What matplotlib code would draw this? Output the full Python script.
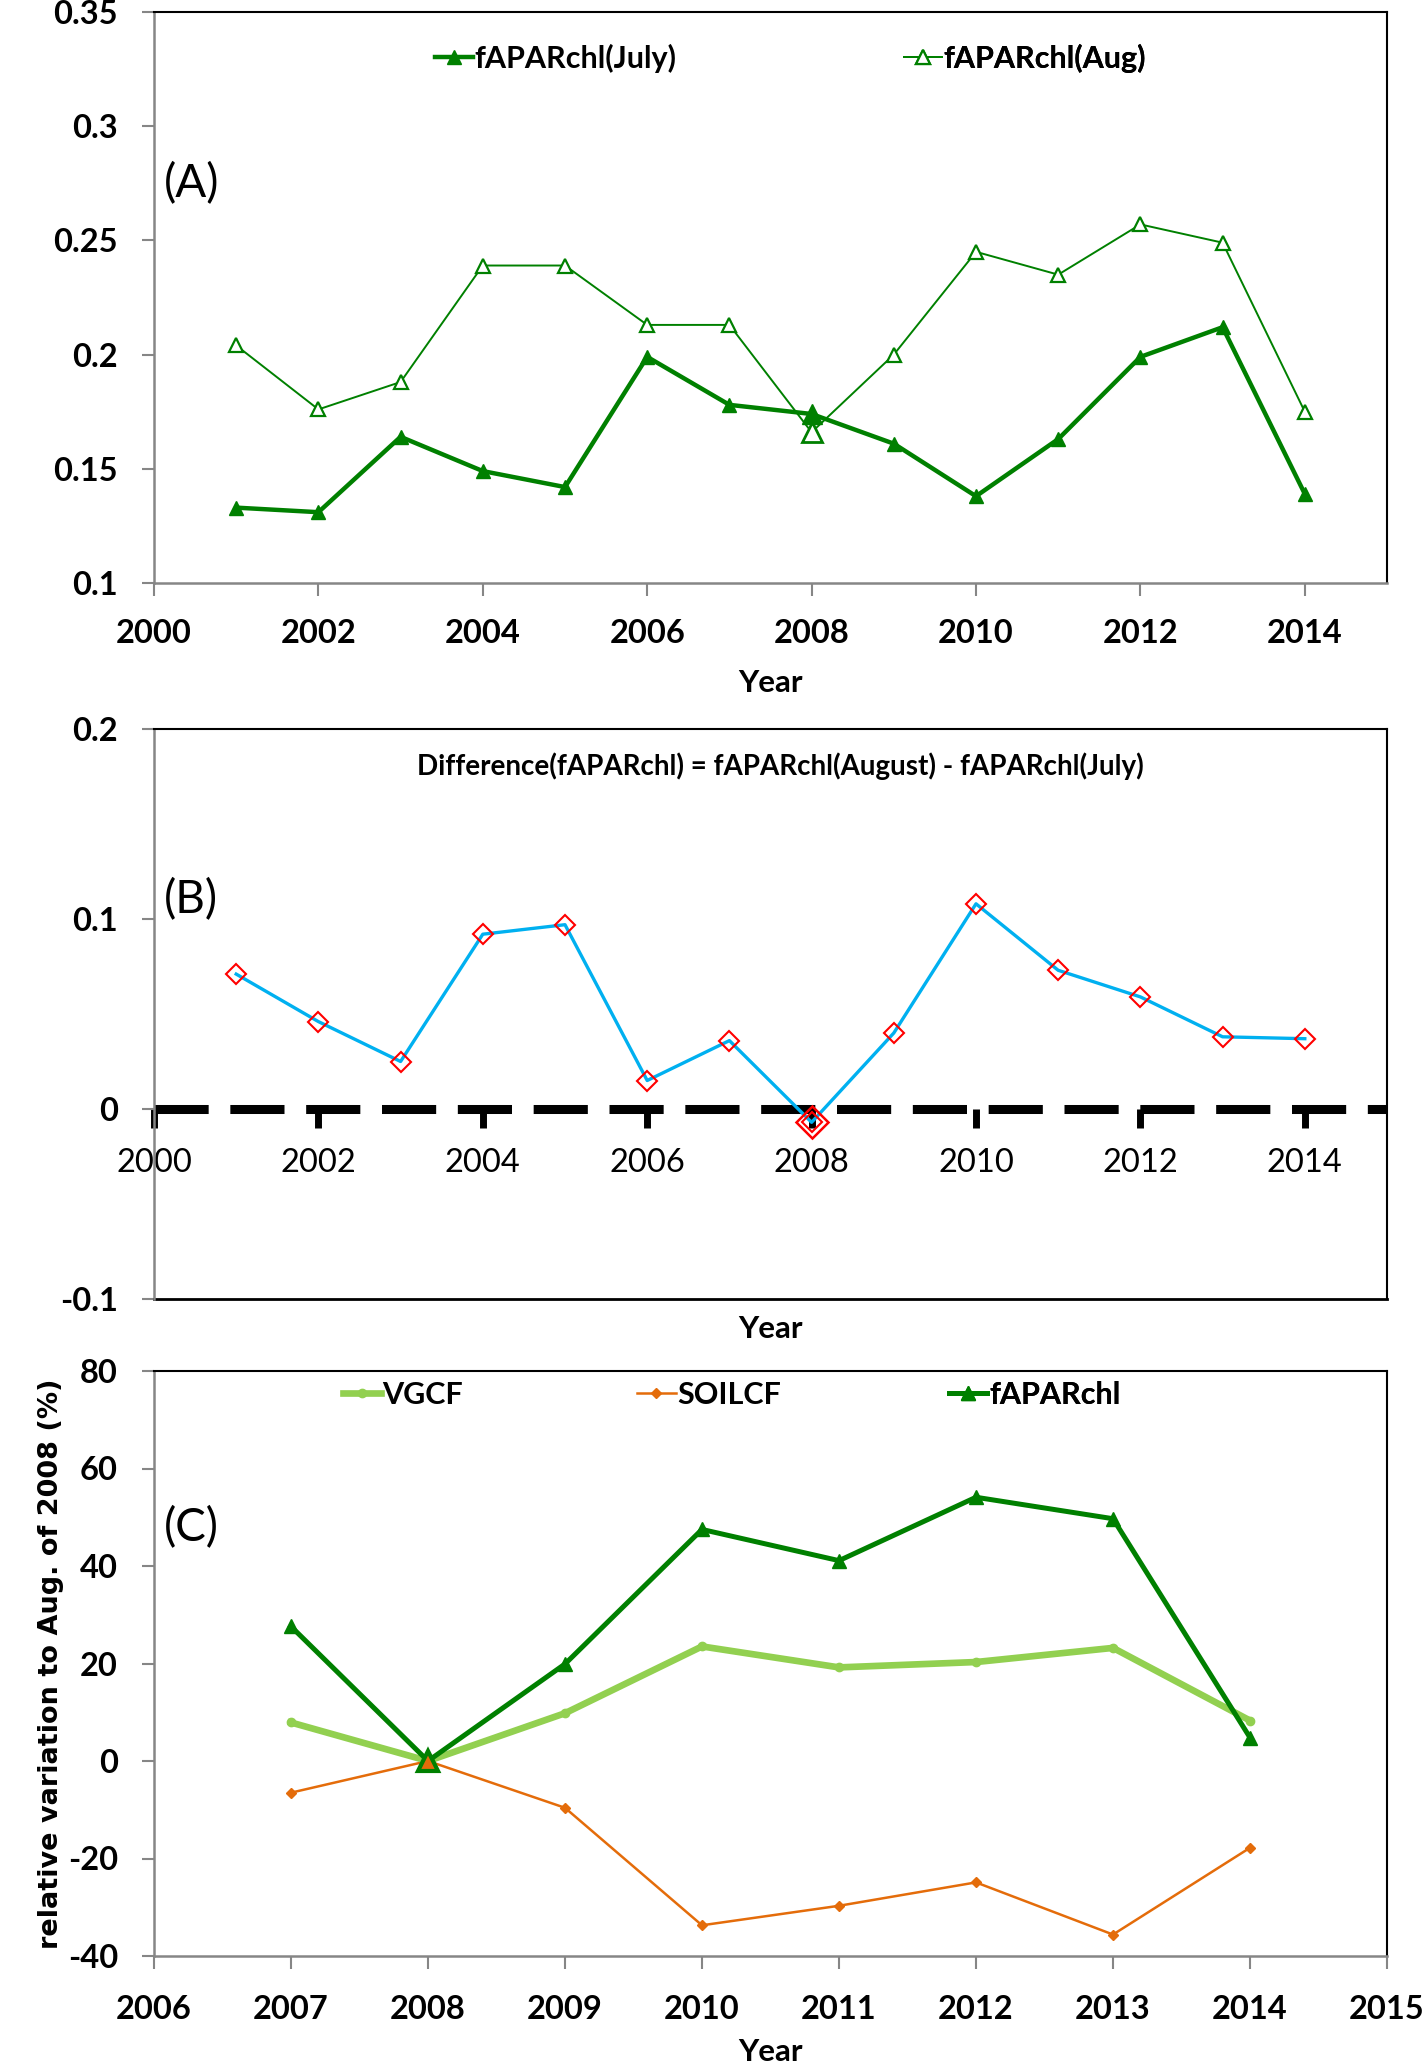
import matplotlib
matplotlib.use("Agg")
import matplotlib.pyplot as plt
from matplotlib.lines import Line2D

plt.rcParams["axes.unicode_minus"] = False

# ---------------- data ----------------
years_a = [2001, 2002, 2003, 2004, 2005, 2006, 2007, 2008, 2009, 2010, 2011, 2012, 2013, 2014]
fapar_july = [0.133, 0.131, 0.164, 0.149, 0.142, 0.199, 0.178, 0.174, 0.161, 0.138, 0.163, 0.199, 0.212, 0.139]
fapar_aug = [0.204, 0.176, 0.188, 0.239, 0.239, 0.213, 0.213, 0.166, 0.200, 0.245, 0.235, 0.257, 0.249, 0.175]
diff_aug_july = [0.071, 0.046, 0.025, 0.092, 0.097, 0.015, 0.036, -0.007, 0.040, 0.108, 0.073, 0.059, 0.038, 0.037]

years_c = [2007, 2008, 2009, 2010, 2011, 2012, 2013, 2014]
vgcf = [7.9, 0.0, 9.8, 23.5, 19.2, 20.3, 23.2, 8.3]
soilcf = [-6.5, 0.0, -9.6, -33.7, -29.7, -24.9, -35.6, -17.8]
fapar_rel = [27.6, 0.0, 19.9, 47.5, 41.1, 54.1, 49.7, 4.8]

xticks_a = [2000, 2002, 2004, 2006, 2008, 2010, 2012, 2014]
yticks_a = [0.1, 0.15, 0.2, 0.25, 0.3, 0.35]
yticklabels_a = ["0.1", "0.15", "0.2", "0.25", "0.3", "0.35"]
yticks_b = [-0.1, 0, 0.1, 0.2]
yticklabels_b = ["-0.1", "0", "0.1", "0.2"]
xticks_c = list(range(2006, 2016))
yticks_c = [-40, -20, 0, 20, 40, 60, 80]
highlight_year = 2008

# ---------------- style ----------------
CAL = ["Lato", "DejaVu Sans"]
VER = ["DejaVu Sans"]
GREEN = "#008000"
LGREEN = "#92D050"
ORANGE = "#E46C0A"
BLUE = "#00B0F0"
RED = "#FF0000"
GRAY = "#868686"
TICK_FS = 23.5

W, H = 1425, 2067
fig = plt.figure(figsize=(W / 100, H / 100), dpi=100)


def ax_at(left, top, right, bottom):
    return fig.add_axes([left / W, 1 - bottom / H, (right - left) / W, (bottom - top) / H])


def style_frame(ax, xpad=12):
    for s in ["top", "right"]:
        ax.spines[s].set_color("black")
        ax.spines[s].set_linewidth(1.5)
    for s in ["left", "bottom"]:
        ax.spines[s].set_color(GRAY)
        ax.spines[s].set_linewidth(1.8)
    ax.tick_params(axis="both", direction="out", color=GRAY, width=1.5, length=9)
    ax.tick_params(axis="y", pad=17)
    ax.tick_params(axis="x", pad=xpad)


def set_ticklabels(ax, weight_x="bold", weight_y="bold"):
    for lab in ax.get_xticklabels():
        lab.set_family(CAL); lab.set_fontsize(TICK_FS); lab.set_fontweight(weight_x)
    for lab in ax.get_yticklabels():
        lab.set_family(CAL); lab.set_fontsize(TICK_FS); lab.set_fontweight(weight_y)


def leg(ax, handle, label, x, y):
    lg = ax.legend([handle], [label], loc="center left", bbox_to_anchor=(x, y),
                   frameon=False, borderpad=0, borderaxespad=0, handlelength=1.25,
                   handletextpad=0.05,
                   prop={"family": CAL, "weight": "bold", "size": 22})
    ax.add_artist(lg)
    return lg


hi = years_a.index(highlight_year)

# ---------------- Panel A ----------------
axA = ax_at(154, 12, 1387, 583)
axA.plot(years_a, fapar_aug, color=GREEN, lw=1.4, marker="^", ms=10, mfc="white",
         mec=GREEN, mew=1.6, zorder=3)
axA.plot(years_a, fapar_july, color=GREEN, lw=3.2, marker="^", ms=10, mfc=GREEN,
         mec=GREEN, zorder=4)
axA.plot([years_a[hi]], [fapar_aug[hi]], ls="none", marker="^", ms=15, mfc="white",
         mec=GREEN, mew=2, zorder=5)
axA.plot([years_a[hi]], [fapar_july[hi]], ls="none", marker="^", ms=15, mfc=GREEN,
         mec=GREEN, zorder=6)
axA.set_xlim(2000, 2015)
axA.set_ylim(0.1, 0.35)
axA.set_xticks(xticks_a)
axA.set_yticks(yticks_a)
axA.set_yticklabels(yticklabels_a)
style_frame(axA, xpad=17)
set_ticklabels(axA)
axA.set_xlabel("Year", family=CAL, fontweight="bold", fontsize=22.5)
axA.xaxis.set_label_coords(0.5, -0.151)
axA.text(0.008, 0.70, "(A)", transform=axA.transAxes, family=CAL, fontsize=33, va="center")
leg(axA, Line2D([], [], color=GREEN, lw=3.2, marker="^", ms=10, mfc=GREEN, mec=GREEN),
    "fAPARchl(July)", 0.228, 0.919)
leg(axA, Line2D([], [], color=GREEN, lw=1.4, marker="^", ms=10, mfc="white", mec=GREEN, mew=1.6),
    "fAPARchl(Aug)", 0.608, 0.919)

# ---------------- Panel B ----------------
axB = ax_at(154, 729, 1387, 1299)
axB.axhline(0, color="black", lw=6.5, ls=(0, (6, 2.4)), solid_capstyle="butt",
            dash_capstyle="butt", zorder=2)
axB.plot(years_a, diff_aug_july, color=BLUE, lw=2.4, zorder=3)
axB.plot(years_a, diff_aug_july, ls="none", marker="D", ms=10.5, mfc="none", mec=RED,
         mew=1.5, zorder=4)
axB.plot([years_a[hi]], [diff_aug_july[hi]], ls="none", marker="D", ms=16, mfc="none",
         mec=RED, mew=1.8, zorder=5)
axB.set_xlim(2000, 2015)
axB.set_ylim(-0.1, 0.2)
axB.set_xticks(xticks_a)
axB.set_yticks(yticks_b)
axB.set_yticklabels(yticklabels_b)
for s in ["top", "right"]:
    axB.spines[s].set_color("black"); axB.spines[s].set_linewidth(1.5)
axB.spines["left"].set_color(GRAY); axB.spines["left"].set_linewidth(1.8)
axB.spines["bottom"].set_position(("data", 0))
axB.spines["bottom"].set_visible(False)
axB.axhline(-0.1, color="black", lw=2, zorder=2.5, clip_on=False)
axB.tick_params(axis="y", direction="out", color=GRAY, width=1.5, length=9, pad=17)
axB.tick_params(axis="x", direction="out", color="black", width=5, length=14, pad=14)
set_ticklabels(axB, weight_x="normal")
axB.set_xlabel("Year", family=CAL, fontweight="bold", fontsize=22.5)
axB.xaxis.set_label_coords(0.5, -0.028)
axB.text(0.008, 0.70, "(B)", transform=axB.transAxes, family=CAL, fontsize=33, va="center")
axB.text(0.508, 0.935, "Difference(fAPARchl) = fAPARchl(August) - fAPARchl(July)",
         transform=axB.transAxes, family=CAL, fontweight="bold", fontsize=20,
         ha="center", va="center")

# ---------------- Panel C ----------------
hc = years_c.index(highlight_year)
axC = ax_at(154, 1371, 1387, 1956)
axC.plot(years_c, soilcf, color=ORANGE, lw=1.8, marker="D", ms=5, mfc=ORANGE, mec=ORANGE, zorder=3)
axC.plot(years_c, vgcf, color=LGREEN, lw=4.8, marker="o", ms=6, mfc=LGREEN, mec=LGREEN, zorder=4)
axC.plot(years_c, fapar_rel, color=GREEN, lw=3.6, marker="^", ms=10, mfc=GREEN, mec=GREEN, zorder=5)
axC.plot([years_c[hc]], [fapar_rel[hc]], ls="none", marker="^", ms=15, mfc=ORANGE,
         mec=GREEN, mew=3, zorder=6)
axC.set_xlim(2006, 2015)
axC.set_ylim(-40, 80)
axC.set_xticks(xticks_c)
axC.set_yticks(yticks_c)
style_frame(axC, xpad=19)
set_ticklabels(axC)
axC.set_xlabel("Year", family=CAL, fontweight="bold", fontsize=22.5)
axC.xaxis.set_label_coords(0.5, -0.140)
axC.set_ylabel("relative variation to Aug. of 2008 (%)", family=VER, fontweight="bold",
               fontsize=19.5)
axC.yaxis.set_label_coords(-0.073, 0.5)
axC.text(0.008, 0.733, "(C)", transform=axC.transAxes, family=CAL, fontsize=33, va="center")
leg(axC, Line2D([], [], color=LGREEN, lw=4.8, marker="o", ms=6, mfc=LGREEN, mec=LGREEN),
    "VGCF", 0.153, 0.959)
leg(axC, Line2D([], [], color=ORANGE, lw=1.8, marker="D", ms=5, mfc=ORANGE, mec=ORANGE),
    "SOILCF", 0.392, 0.959)
leg(axC, Line2D([], [], color=GREEN, lw=3.6, marker="^", ms=10, mfc=GREEN, mec=GREEN),
    "fAPARchl", 0.645, 0.959)

fig.savefig("out.png", dpi=100)
